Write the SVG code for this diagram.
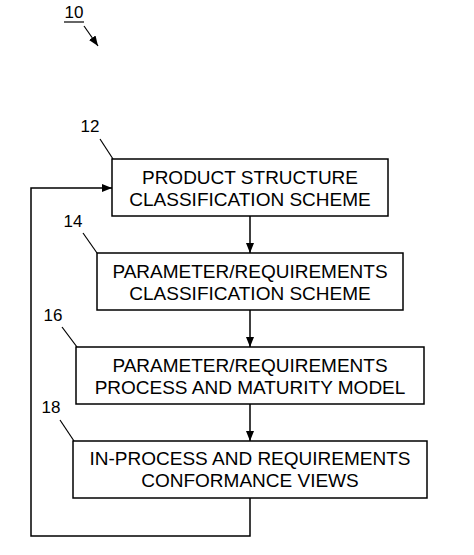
<svg xmlns="http://www.w3.org/2000/svg" width="474" height="555" viewBox="0 0 474 555">
<style>
.box{fill:#fff;stroke:#000;stroke-width:1.5}
.t{font-family:"Liberation Sans",Arial,sans-serif;font-size:19px;text-anchor:middle;fill:#000}
.n{font-family:"Liberation Sans",Arial,sans-serif;font-size:17px;text-anchor:middle;fill:#000}
.ln{fill:none;stroke:#000;stroke-width:1.5}
.ld{fill:none;stroke:#000;stroke-width:1.2}
</style>
<defs>
<marker id="ah" markerWidth="10" markerHeight="10" viewBox="0 0 10 10" refX="10" refY="5" orient="auto" markerUnits="userSpaceOnUse">
<path d="M0,1 L10,5 L0,9 Z" fill="#000"/>
</marker>
</defs>
<rect width="474" height="555" fill="#fff"/>
<g id="ref10">
<text class="n" x="74" y="18">10</text>
<line class="ld" x1="64" y1="22" x2="84" y2="22"/>
<line class="ld" x1="84" y1="26" x2="98" y2="46" marker-end="url(#ah)"/>
</g>
<g id="connectors">
<line class="ln" x1="250" y1="216" x2="250" y2="253" marker-end="url(#ah)"/>
<line class="ln" x1="250" y1="310" x2="250" y2="347" marker-end="url(#ah)"/>
<line class="ln" x1="250" y1="404" x2="250" y2="441" marker-end="url(#ah)"/>
<polyline class="ln" points="250,498 250,536 31,536 31,188 112,188" marker-end="url(#ah)"/>
</g>
<g id="node12">
<rect class="box" x="112" y="159" width="276" height="57"/>
<text class="t" x="250" y="184">PRODUCT STRUCTURE</text>
<text class="t" x="250" y="206">CLASSIFICATION SCHEME</text>
<text class="n" x="90" y="132">12</text>
<line class="ld" x1="100" y1="139" x2="113" y2="159"/>
</g>
<g id="node14">
<rect class="box" x="97" y="253" width="306" height="57"/>
<text class="t" x="250" y="278">PARAMETER/REQUIREMENTS</text>
<text class="t" x="250" y="300">CLASSIFICATION SCHEME</text>
<text class="n" x="73" y="227">14</text>
<line class="ld" x1="83" y1="233" x2="97" y2="253"/>
</g>
<g id="node16">
<rect class="box" x="76" y="347" width="348" height="57"/>
<text class="t" x="250" y="372">PARAMETER/REQUIREMENTS</text>
<text class="t" x="250" y="394">PROCESS AND MATURITY MODEL</text>
<text class="n" x="53" y="321">16</text>
<line class="ld" x1="62" y1="327" x2="77" y2="347"/>
</g>
<g id="node18">
<rect class="box" x="73" y="441" width="354" height="57"/>
<text class="t" x="250" y="465">IN-PROCESS AND REQUIREMENTS</text>
<text class="t" x="250" y="487">CONFORMANCE VIEWS</text>
<text class="n" x="51" y="413">18</text>
<line class="ld" x1="60" y1="420" x2="74" y2="441"/>
</g>
</svg>
